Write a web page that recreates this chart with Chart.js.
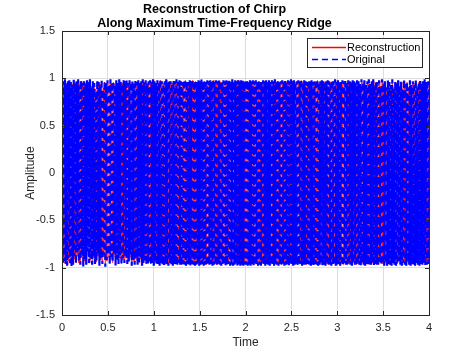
<!DOCTYPE html>
<html><head><meta charset="utf-8">
<script src="https://cdn.jsdelivr.net/npm/chart.js@4/dist/chart.umd.min.js"></script>
<style>html,body{margin:0;padding:0;background:#fff}#wrap{width:474px;height:355px}</style>
</head><body><div id="wrap"><canvas id="c" width="474" height="355"></canvas></div>
<script>
const titleLines = ['Reconstruction of Chirp', 'Along Maximum Time-Frequency Ridge'];
const seriesNames = ['Reconstruction', 'Original'];
const xLabel = 'Time';
const yLabel = 'Amplitude';
const sampleRate = 125; // samples per unit time, 0..4
const xTicks = [0, 0.5, 1, 1.5, 2, 2.5, 3, 3.5, 4];
const yTicks = [-1.5, -1, -0.5, 0, 0.5, 1, 1.5];

const original = [
.02,-.95,.97,-.93,.99,-.96,.94,-.98,.97,-.9,.98,-.95,.96,-.99,.93,-.97,.99,-.88,.95,-.96,
.97,-.84,.99,-.94,.92,-.97,.98,-.86,.95,-.99,.97,-.91,.94,-.97,.98,-.83,.96,-.95,.99,-.9,
.9,-.97,.97,-.88,.95,-.96,.86,-.93,.98,-.85,.96,-.98,.93,-.9,.99,-.96,.88,-.87,.97,-.99,
.95,-.92,.98,-.86,.94,-.97,.99,-.89,.96,-.94,.97,-.85,.93,-.98,.98,-.91,.95,-.96,.99,-.87,
.96,-.97,.94,-.9,.98,-.95,.97,-.88,.99,-.96,.95,-.93,.98,-.86,.96,-.98,.97,-.92,.94,-.97,
.99,-.9,.96,-.97,.98,-.94,.95,-.89,.97,-.98,.99,-.95,.96,-.92,.98,-.97,.94,-.96,.97,-.93,
.98,-.97,.96,-.95,.99,-.98,.97,-.94,.95,-.97,.98,-.96,.96,-.98,.99,-.95,.97,-.97,.94,-.98,
.97,-.96,.99,-.97,.96,-.98,.98,-.95,.97,-.97,.95,-.98,.98,-.96,.97,-.97,.99,-.98,.96,-.95,
.98,-.97,.97,-.98,.96,-.96,.98,-.97,.99,-.98,.97,-.96,.96,-.97,.98,-.98,.97,-.96,.99,-.97,
.97,-.98,.98,-.97,.96,-.96,.98,-.98,.97,-.97,.99,-.96,.97,-.98,.98,-.97,.96,-.98,.98,-.97,
.97,-.97,.98,-.96,.97,-.98,.99,-.97,.96,-.97,.98,-.98,.97,-.96,.98,-.97,.97,-.98,.96,-.97,
.98,-.97,.97,-.98,.98,-.97,.97,-.96,.98,-.98,.97,-.97,.99,-.98,.97,-.97,.98,-.96,.97,-.98,
.98,-.97,.97,-.98,.98,-.97,.98,-.98,.97,-.97,.98,-.97,.98,-.98,.97,-.97,.98,-.98,.97,-.97,
.98,-.98,.97,-.97,.98,-.96,.97,-.98,.98,-.97,.97,-.98,.96,-.97,.98,-.97,.97,-.98,.98,-.96,
.97,-.97,.98,-.98,.96,-.97,.98,-.97,.97,-.98,.99,-.96,.97,-.97,.98,-.98,.96,-.97,.97,-.98,
.98,-.96,.97,-.98,.98,-.97,.96,-.97,.98,-.98,.97,-.96,.99,-.97,.97,-.98,.98,-.97,.96,-.96,
.97,-.98,.98,-.97,.97,-.96,.99,-.98,.96,-.97,.98,-.97,.97,-.98,.96,-.96,.98,-.97,.97,-.98,
.98,-.97,.96,-.98,.97,-.96,.98,-.97,.99,-.98,.96,-.97,.97,-.96,.98,-.98,.97,-.97,.96,-.98,
.97,-.96,.98,-.98,.97,-.97,.96,-.98,.98,-.96,.97,-.97,.99,-.98,.96,-.97,.98,-.96,.97,-.98,
.96,-.97,.98,-.98,.97,-.95,.99,-.97,.95,-.98,.98,-.96,.97,-.97,.96,-.98,.98,-.95,.97,-.97,
.95,-.98,.98,-.96,.97,-.97,.94,-.98,.99,-.95,.96,-.97,.98,-.98,.93,-.96,.97,-.97,.99,-.98,
.94,-.97,.97,-.95,.99,-.98,.92,-.96,.97,-.97,.96,-.98,.98,-.94,.91,-.97,.99,-.96,.95,-.98,
.97,-.95,.9,-.98,.98,-.96,.96,-.97,.93,-.98,.99,-.95,.89,-.97,.97,-.98,.95,-.96,.98,-.93,
.92,-.97,.97,-.98,.88,-.95,.99,-.97,.94,-.98,.96,-.94,.9,-.97,.98,-.98,.93,-.96,.97,-.97,
.95,-.98,.99,-.95,.91,-.97,.96,-.98,.98,-.96,.94,-.97,.97,-.95,.99,-.98,.96,-.97,.98,-.96,
.97
];

const reconstruction = [
.01,-.94,.96,-.95,.97,-.96,.95,-.97,.96,-.93,.97,-.96,.95,-.97,.94,-.96,.97,-.91,.96,-.95,
.96,-.88,.97,-.95,.94,-.96,.97,-.89,.95,-.97,.96,-.93,.95,-.96,.97,-.87,.96,-.95,.97,-.92,
.92,-.96,.96,-.9,.95,-.95,.89,-.94,.97,-.88,.95,-.97,.94,-.92,.97,-.95,.9,-.89,.96,-.97,
.95,-.93,.97,-.89,.95,-.96,.97,-.91,.95,-.95,.96,-.88,.94,-.97,.97,-.92,.95,-.95,.97,-.9,
.96,-.96,.95,-.92,.97,-.95,.96,-.9,.97,-.95,.95,-.94,.97,-.89,.96,-.97,.96,-.93,.95,-.96,
.97,-.92,.96,-.96,.97,-.95,.95,-.91,.96,-.97,.97,-.95,.96,-.93,.97,-.96,.95,-.95,.96,-.94,
.97,-.96,.96,-.95,.98,-.97,.96,-.95,.95,-.96,.97,-.96,.96,-.97,.98,-.95,.96,-.96,.95,-.97,
.96,-.96,.98,-.96,.96,-.97,.97,-.95,.96,-.96,.95,-.97,.97,-.96,.96,-.96,.98,-.97,.96,-.95,
.97,-.96,.96,-.97,.96,-.96,.97,-.96,.98,-.97,.96,-.96,.96,-.96,.97,-.97,.96,-.96,.98,-.96,
.96,-.97,.97,-.96,.96,-.96,.97,-.97,.96,-.96,.98,-.96,.96,-.97,.97,-.96,.96,-.97,.97,-.96,
.96,-.96,.97,-.96,.96,-.97,.98,-.96,.96,-.96,.97,-.97,.96,-.96,.97,-.96,.96,-.97,.96,-.96,
.97,-.96,.96,-.97,.97,-.96,.96,-.96,.97,-.97,.96,-.96,.98,-.97,.96,-.96,.97,-.96,.96,-.97,
.98,-.96,.96,-.97,.97,-.96,.97,-.97,.96,-.96,.97,-.96,.97,-.97,.96,-.96,.97,-.97,.96,-.96,
.97,-.97,.96,-.96,.97,-.96,.96,-.97,.97,-.96,.96,-.97,.96,-.96,.97,-.96,.96,-.97,.97,-.96,
.96,-.96,.97,-.97,.96,-.96,.97,-.96,.96,-.97,.98,-.96,.96,-.96,.97,-.97,.96,-.96,.96,-.97,
.97,-.96,.96,-.97,.97,-.96,.96,-.96,.97,-.97,.96,-.96,.98,-.96,.96,-.97,.97,-.96,.96,-.96,
.96,-.97,.97,-.96,.96,-.96,.98,-.97,.96,-.96,.97,-.96,.96,-.97,.96,-.96,.97,-.96,.96,-.97,
.97,-.96,.96,-.97,.96,-.96,.97,-.96,.98,-.97,.96,-.96,.96,-.96,.97,-.97,.96,-.96,.96,-.97,
.96,-.96,.97,-.97,.96,-.96,.96,-.97,.97,-.96,.96,-.96,.98,-.97,.96,-.96,.97,-.96,.96,-.97,
.96,-.96,.97,-.97,.96,-.95,.97,-.96,.95,-.97,.97,-.96,.96,-.96,.96,-.97,.97,-.95,.96,-.96,
.95,-.97,.97,-.96,.96,-.96,.94,-.97,.97,-.95,.96,-.96,.97,-.97,.93,-.96,.96,-.96,.97,-.97,
.94,-.96,.96,-.95,.97,-.97,.93,-.96,.96,-.96,.96,-.97,.97,-.94,.92,-.96,.97,-.96,.95,-.97,
.96,-.95,.91,-.97,.97,-.96,.96,-.96,.93,-.97,.97,-.95,.9,-.96,.96,-.97,.95,-.96,.97,-.93,
.92,-.96,.96,-.97,.89,-.95,.97,-.96,.94,-.97,.96,-.94,.91,-.96,.97,-.97,.93,-.96,.96,-.96,
.95,-.97,.97,-.95,.92,-.96,.96,-.97,.97,-.96,.94,-.96,.96,-.95,.97,-.97,.96,-.96,.97,-.96,
.96
];

const FONT = "'Liberation Sans', Arial, Helvetica, sans-serif";
const AXIS_COLOR = '#262626';
const RED = '#ff0000';
const BLUE = '#0000ff';
const toPoints = arr => arr.map((v, i) => ({ x: i / sampleRate, y: v }));

const frameLegendPlugin = {
  id: 'frameLegend',
  afterDraw(chart) {
    const ctx = chart.ctx, ca = chart.chartArea;
    const xs = chart.scales.x, ys = chart.scales.y;
    ctx.save();
    ctx.globalAlpha = 1;
    ctx.globalCompositeOperation = 'source-over';
    ctx.setLineDash([]);
    ctx.strokeStyle = AXIS_COLOR;
    ctx.lineWidth = 1;
    ctx.beginPath();
    xTicks.forEach(v => {
      const px = Math.round(xs.getPixelForValue(v)) + 0.5;
      ctx.moveTo(px, ca.bottom); ctx.lineTo(px, ca.bottom - 4);
      ctx.moveTo(px, ca.top); ctx.lineTo(px, ca.top + 4);
    });
    yTicks.forEach(v => {
      const py = Math.round(ys.getPixelForValue(v)) + 0.5;
      ctx.moveTo(ca.left, py); ctx.lineTo(ca.left + 4, py);
      ctx.moveTo(ca.right, py); ctx.lineTo(ca.right - 4, py);
    });
    ctx.stroke();
    ctx.strokeRect(Math.round(ca.left) + 0.5, Math.round(ca.top) + 0.5,
                   Math.round(ca.right - ca.left), Math.round(ca.bottom - ca.top));
    ctx.restore();

    // legend
    ctx.save();
    const bx0 = Math.round(ca.right - 122), by0 = Math.round(ca.top + 7), bw = 115, bh = 29;
    ctx.fillStyle = '#ffffff';
    ctx.fillRect(bx0, by0, bw, bh);
    ctx.lineWidth = 1;
    ctx.strokeStyle = AXIS_COLOR;
    ctx.strokeRect(bx0 + 0.5, by0 + 0.5, bw, bh);
    const entries = [
      { label: seriesNames[0], color: RED, dash: [] },
      { label: seriesNames[1], color: BLUE, dash: [6, 4] }
    ];
    entries.forEach((e, row) => {
      const ly = by0 + 9 + row * 12;
      ctx.beginPath();
      ctx.setLineDash(e.dash);
      ctx.lineWidth = 1.4;
      ctx.strokeStyle = e.color;
      ctx.moveTo(bx0 + 5, ly + 0.5);
      ctx.lineTo(bx0 + 39, ly + 0.5);
      ctx.stroke();
    });
    ctx.setLineDash([]);
    ctx.font = '11px ' + FONT;
    ctx.textBaseline = 'middle';
    ctx.textAlign = 'left';
    ctx.fillStyle = '#000000';
    entries.forEach((e, row) => {
      const ly = by0 + 9 + row * 12;
      ctx.fillText(e.label, bx0 + 40, ly + 0.5);
    });
    ctx.restore();
  }
};

new Chart(document.getElementById('c'), {
  type: 'line',
  data: {
    datasets: [
      {
        label: seriesNames[1],
        data: toPoints(original),
        borderColor: BLUE,
        borderWidth: 2.2,
        borderDash: [6, 4],
        pointRadius: 0,
        tension: 0,
        fill: false,
        order: 0
      },
      {
        label: seriesNames[0],
        data: toPoints(reconstruction),
        borderColor: RED,
        borderWidth: 0.6,
        pointRadius: 0,
        tension: 0,
        fill: false,
        order: 1
      }
    ]
  },
  options: {
    responsive: false,
    animation: false,
    devicePixelRatio: 1,
    layout: { padding: { left: 0, right: 45, top: 0, bottom: 0 } },
    plugins: {
      legend: { display: false },
      tooltip: { enabled: false },
      title: {
        display: true,
        text: titleLines,
        color: '#000000',
        font: { family: FONT, size: 12.5, weight: 'bold', lineHeight: 1.12 },
        padding: { top: 3, bottom: 0 }
      }
    },
    scales: {
      x: {
        type: 'linear',
        min: 0, max: 4,
        afterBuildTicks: s => { s.ticks = xTicks.map(v => ({ value: v })); },
        afterFit: s => { s.height = 40; },
        ticks: { color: AXIS_COLOR, font: { family: FONT, size: 11 }, padding: 6, maxRotation: 0, autoSkip: false, callback: v => String(v) },
        grid: { color: '#dedede', drawTicks: false },
        border: { display: false },
        title: { display: true, text: xLabel, color: AXIS_COLOR, font: { family: FONT, size: 12 }, padding: { top: 0, bottom: 5 } }
      },
      y: {
        type: 'linear',
        min: -1.5, max: 1.5,
        afterBuildTicks: s => { s.ticks = yTicks.map(v => ({ value: v })); },
        afterFit: s => { s.width = 62; },
        ticks: { color: AXIS_COLOR, font: { family: FONT, size: 11 }, padding: 7, autoSkip: false, callback: v => String(v) },
        grid: { color: '#dedede', drawTicks: false },
        border: { display: false },
        title: { display: true, text: yLabel, color: AXIS_COLOR, font: { family: FONT, size: 12 }, padding: { top: 23, bottom: 0 } }
      }
    }
  },
  plugins: [frameLegendPlugin]
});
</script>
</body></html>
